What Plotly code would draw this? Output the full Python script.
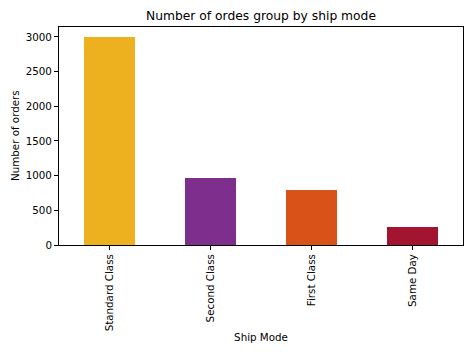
import plotly.graph_objects as go

categories = ["Standard Class", "Second Class", "First Class", "Same Day"]
orders = [2994, 964, 787, 264]
colors = ["#EDB120", "#7E2F8E", "#D95319", "#A2142F"]
y_ticks = [0, 500, 1000, 1500, 2000, 2500, 3000]

fig = go.Figure(go.Bar(x=categories, y=orders, marker=dict(color=colors, line=dict(width=0)), width=0.5))

font_family = "DejaVu Sans"
fs = 10.3
W, H = 474, 355
L, R, T, B = 59, 11, 27, 110
fig.update_layout(
    width=W, height=H,
    margin=dict(l=L, r=R, t=T, b=B, autoexpand=False),
    paper_bgcolor="white", plot_bgcolor="white",
    font=dict(family=font_family, size=fs, color="black"),
    title=dict(text="Number of ordes group by ship mode", x=(L + W - R) / 2 / W, xanchor="center",
               y=1 - 16/H, yanchor="middle", font=dict(size=12.3, color="black")),
    showlegend=False,
    bargap=0,
)
fig.update_xaxes(
    range=[-0.5, 3.5], showline=True, linecolor="black", linewidth=1, mirror=True,
    ticks="outside", ticklen=4, tickcolor="black", tickangle=-90, showgrid=False,
    title=dict(text="Ship Mode", font=dict(size=fs), standoff=3),
    tickfont=dict(size=fs), automargin=False,
)
fig.update_yaxes(
    range=[0, 3144], showline=True, linecolor="black", linewidth=1, mirror=True,
    ticks="outside", ticklen=4, tickcolor="black", showgrid=False, zeroline=False,
    tickvals=y_ticks, ticktext=[str(v) for v in y_ticks],
    tickfont=dict(size=fs), automargin=False,
)
# y-axis title placed as annotation for precise position
plot_h = H - T - B
fig.add_annotation(
    text="Number of orders", textangle=-90, showarrow=False,
    xref="paper", yref="paper",
    x=(15 - L) / (W - L - R), y=0.5, xanchor="center", yanchor="middle",
    font=dict(size=fs, color="black"),
)
fig.write_html("out.html", config={"displayModeBar": False},
               post_script="document.body.style.margin='0';document.body.style.overflow='hidden';")
